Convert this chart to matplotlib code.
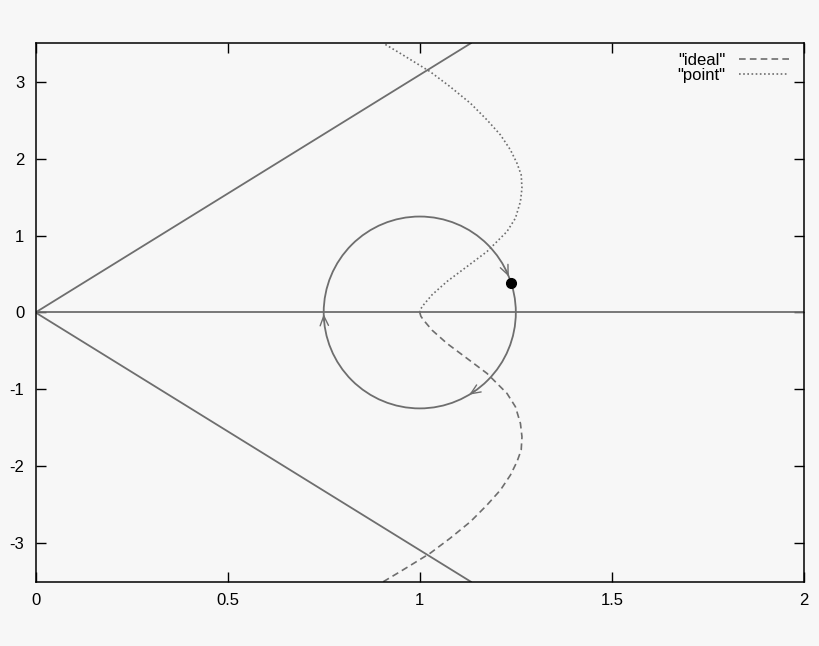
import numpy as np
import matplotlib
matplotlib.use("Agg")
import matplotlib.pyplot as plt
from matplotlib.patches import Ellipse

plt.rcParams['font.family'] = ['Liberation Sans Narrow', 'Liberation Sans', 'DejaVu Sans']

# ---- data ----
x_ticks = [0, 0.5, 1, 1.5, 2]
x_tick_labels = ["0", "0.5", "1", "1.5", "2"]
y_ticks = [-3, -2, -1, 0, 1, 2, 3]
y_tick_labels = ["-3", "-2", "-1", "0", "1", "2", "3"]

# asymptote lines from the origin
asym_x = [0.0, 1.133]
asym_up_y = [0.0, 3.5]
asym_dn_y = [0.0, -3.5]

# horizontal axis line
hline_x = [0.0, 2.0]
hline_y = [0.0, 0.0]

# circle (ellipse in data units)
circle_center = (1.0, 0.0)
circle_rx = 0.25
circle_ry = 1.247
arrow_angles_deg = [22, 181, 301]

# "point" curve (dotted), upper half
point_x = [1.000, 1.003, 1.010, 1.032, 1.071, 1.123, 1.175, 1.201, 1.227, 1.249,
           1.262, 1.266, 1.264, 1.253, 1.236, 1.210, 1.175, 1.132, 1.079, 1.027,
           0.949, 0.905]
point_y = [0.000, 0.050, 0.100, 0.230, 0.403, 0.597, 0.792, 0.922, 1.052, 1.226,
           1.442, 1.616, 1.788, 1.940, 2.113, 2.308, 2.503, 2.719, 2.935, 3.130,
           3.369, 3.500]

# "ideal" curve (dashed), lower half
ideal_x = [1.000, 1.003, 1.010, 1.032, 1.071, 1.123, 1.175, 1.201, 1.227, 1.249,
           1.262, 1.266, 1.264, 1.253, 1.236, 1.210, 1.175, 1.132, 1.079, 1.027,
           0.949, 0.905]
ideal_y = [-0.000, -0.050, -0.100, -0.230, -0.403, -0.597, -0.792, -0.922, -1.052, -1.226,
           -1.442, -1.616, -1.788, -1.940, -2.113, -2.308, -2.503, -2.719, -2.935, -3.130,
           -3.369, -3.500]

# marker point
dot_x = [1.238]
dot_y = [0.38]

# ---- figure ----
bg = '#f7f7f7'
gray = '#6e6e6e'
fig = plt.figure(figsize=(8.2, 6.46), dpi=100, facecolor=bg)
ax = fig.add_axes([0.0433, 0.0995, 0.9372, 0.8336])
ax.set_facecolor(bg)
ax.set_xlim(0, 2)
ax.set_ylim(-3.5, 3.5)

ax.plot(asym_x, asym_up_y, color=gray, lw=1.3)
ax.plot(asym_x, asym_dn_y, color=gray, lw=1.3)
ax.plot(hline_x, hline_y, color=gray, lw=1.3)

ell = Ellipse(circle_center, 2 * circle_rx, 2 * circle_ry, fill=False, edgecolor=gray, lw=1.3)
ax.add_patch(ell)

# arrowheads along the circle (clockwise travel)
for a in arrow_angles_deg:
    t = np.deg2rad(a)
    dt = np.deg2rad(4)
    x0 = circle_center[0] + circle_rx * np.cos(t + dt)
    y0 = circle_center[1] + circle_ry * np.sin(t + dt)
    x1 = circle_center[0] + circle_rx * np.cos(t)
    y1 = circle_center[1] + circle_ry * np.sin(t)
    ax.annotate("", xy=(x1, y1), xytext=(x0, y0),
                arrowprops=dict(arrowstyle="->,head_length=0.7,head_width=0.3",
                                color=gray, lw=1.0, shrinkA=0, shrinkB=0))

ax.plot(ideal_x, ideal_y, color=gray, lw=1.2, ls=(0, (4, 2.5)), label='"ideal"',
        solid_joinstyle='round', dash_joinstyle='round')
ax.plot(point_x, point_y, color=gray, lw=1.2, ls=(0, (1, 1.5)), label='"point"',
        solid_joinstyle='round', dash_joinstyle='round')

ax.plot(dot_x, dot_y, 'o', color='black', ms=7)

ax.set_xticks(x_ticks)
ax.set_xticklabels(x_tick_labels)
ax.set_yticks(y_ticks)
ax.set_yticklabels(y_tick_labels)
ax.tick_params(direction='in', length=7, width=1, top=True, right=True,
               labelsize=12, pad=8, colors='black')
for s in ax.spines.values():
    s.set_linewidth(1.1)
    s.set_color('black')

leg = ax.legend(loc='upper right', bbox_to_anchor=(0.9935, 1.0), frameon=False,
                fontsize=12, markerfirst=False,
                handlelength=3.0, handletextpad=0.8, borderaxespad=0.2,
                labelspacing=0.0)
for t in leg.get_texts():
    t.set_ha('right')

fig.savefig("out.png", dpi=100, facecolor=bg)
